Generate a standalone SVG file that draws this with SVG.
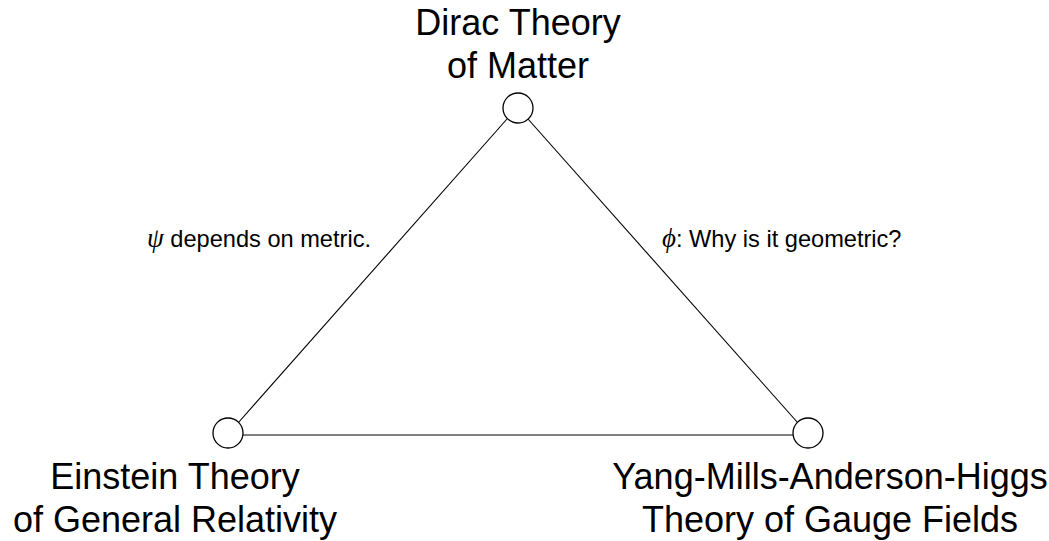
<svg xmlns="http://www.w3.org/2000/svg" width="1049" height="541" viewBox="0 0 1049 541">
<style>
.node{fill:#ffffff;stroke:#000000;stroke-width:1.3}
.edge{stroke:#000000;stroke-width:1.1;fill:none}
.big{font-family:"Liberation Sans",Arial,sans-serif;font-size:36px;fill:#000;text-anchor:middle}
.lbl{font-family:"Liberation Sans",Arial,sans-serif;font-size:23.6px;fill:#000}
.math{font-family:"Liberation Serif","DejaVu Serif",serif;font-style:italic}
</style>
<rect width="1049" height="541" fill="#ffffff"/>
<g id="connectors">
<line class="edge" x1="507" y1="119" x2="238" y2="423"/>
<line class="edge" x1="528" y1="119" x2="798" y2="423"/>
<line class="edge" x1="243" y1="435" x2="793" y2="435"/>
<text class="lbl" x="147" y="247"><tspan class="math" font-size="27">ψ</tspan> depends on metric.</text>
<text class="lbl" x="662" y="247"><tspan class="math" font-size="27">ϕ</tspan>: Why is it geometric?</text>
</g>
<g id="dirac">
<circle class="node" cx="518" cy="108" r="15"/>
<text class="big" x="518" y="35">Dirac Theory</text>
<text class="big" x="518" y="78">of Matter</text>
</g>
<g id="einstein">
<circle class="node" cx="228" cy="433" r="15"/>
<text class="big" x="175" y="489">Einstein Theory</text>
<text class="big" x="175" y="532">of General Relativity</text>
</g>
<g id="yangmills">
<circle class="node" cx="808" cy="433" r="15"/>
<text class="big" x="830" y="489">Yang-Mills-Anderson-Higgs</text>
<text class="big" x="830" y="532">Theory of Gauge Fields</text>
</g>
</svg>
